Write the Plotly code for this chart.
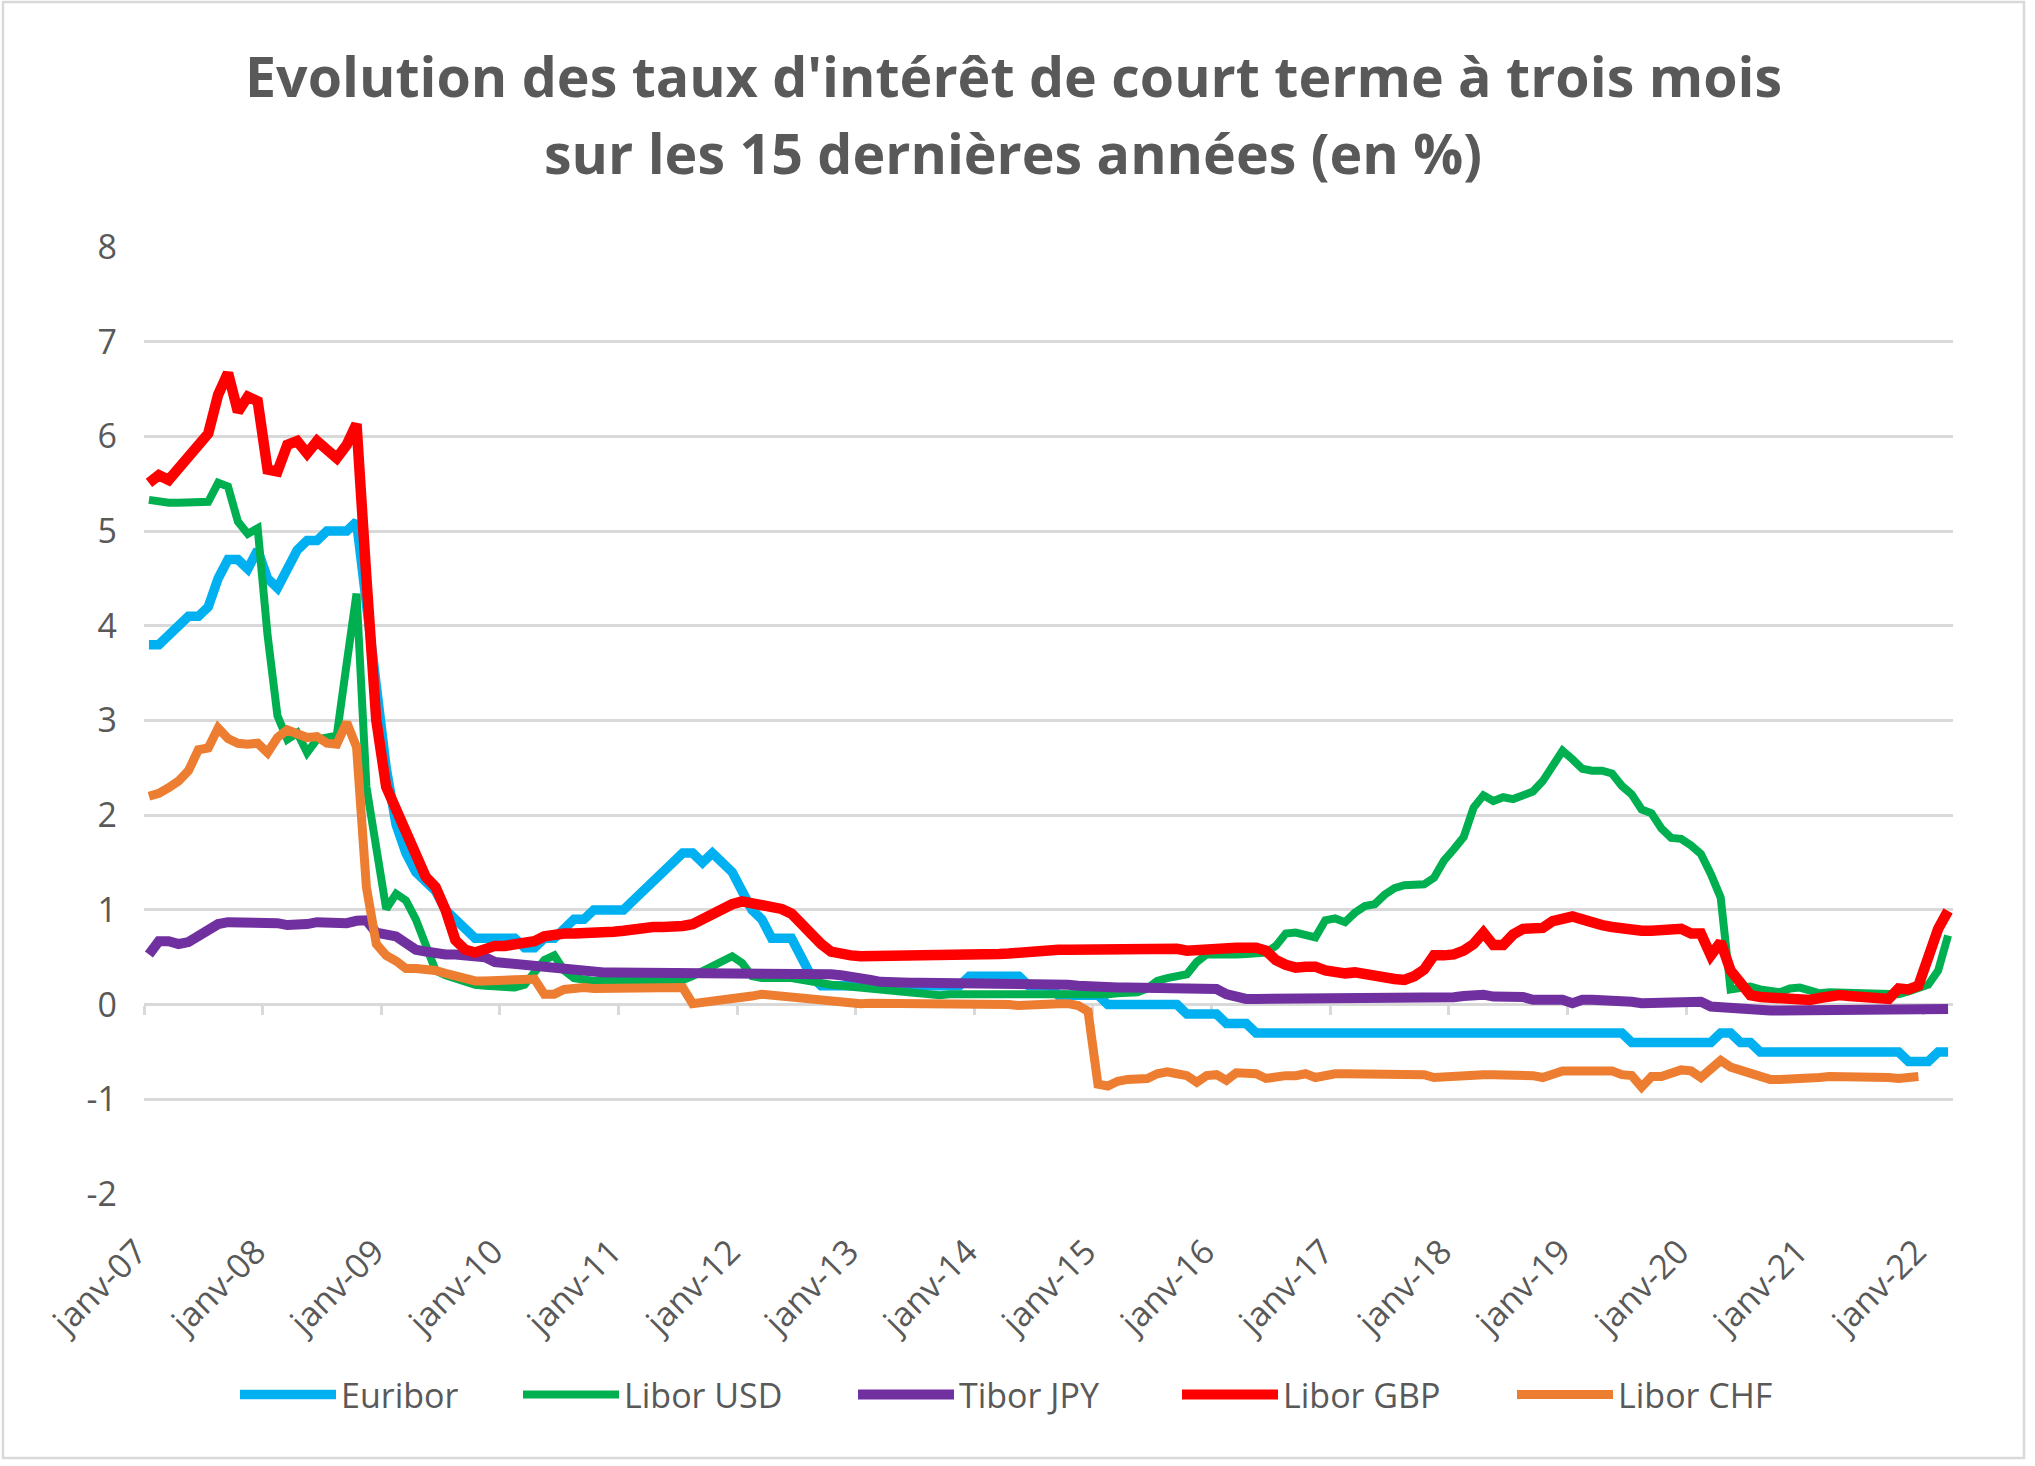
import plotly.graph_objects as go

# ---- Categories (monthly, janv-07 .. mars-22) ----
mois_abbr = ["janv", "févr", "mars", "avr", "mai", "juin",
             "juil", "août", "sept", "oct", "nov", "déc"]
mois = [f"{mois_abbr[i % 12]}-{7 + i // 12:02d}" for i in range(183)]

# ---- Series (in %) ----
euribor = [
    3.8, 3.8, 3.9, 4.0, 4.1, 4.1, 4.2, 4.5, 4.7, 4.7, 4.6, 4.8,          # 2007
    4.5, 4.4, 4.6, 4.8, 4.9, 4.9, 5.0, 5.0, 5.0, 5.1, 4.2, 3.3,          # 2008
    2.5, 1.9, 1.6, 1.4, 1.3, 1.2, 1.0, 0.9, 0.8, 0.7, 0.7, 0.7,          # 2009
    0.7, 0.7, 0.6, 0.6, 0.7, 0.7, 0.8, 0.9, 0.9, 1.0, 1.0, 1.0,          # 2010
    1.0, 1.1, 1.2, 1.3, 1.4, 1.5, 1.6, 1.6, 1.5, 1.6, 1.5, 1.4,          # 2011
    1.2, 1.0, 0.9, 0.7, 0.7, 0.7, 0.5, 0.3, 0.2, 0.2, 0.2, 0.2,          # 2012
    0.2, 0.2, 0.2, 0.2, 0.2, 0.2, 0.2, 0.2, 0.2, 0.2, 0.2, 0.3,          # 2013
    0.3, 0.3, 0.3, 0.3, 0.3, 0.2, 0.2, 0.2, 0.1, 0.1, 0.1, 0.1,          # 2014
    0.1, 0.0, 0.0, 0.0, 0.0, 0.0, 0.0, 0.0, 0.0, -0.1, -0.1, -0.1,       # 2015
    -0.1, -0.2, -0.2, -0.2, -0.3, -0.3, -0.3, -0.3, -0.3, -0.3, -0.3, -0.3,  # 2016
    -0.3, -0.3, -0.3, -0.3, -0.3, -0.3, -0.3, -0.3, -0.3, -0.3, -0.3, -0.3,  # 2017
    -0.3, -0.3, -0.3, -0.3, -0.3, -0.3, -0.3, -0.3, -0.3, -0.3, -0.3, -0.3,  # 2018
    -0.3, -0.3, -0.3, -0.3, -0.3, -0.3, -0.4, -0.4, -0.4, -0.4, -0.4, -0.4,  # 2019
    -0.4, -0.4, -0.4, -0.3, -0.3, -0.4, -0.4, -0.5, -0.5, -0.5, -0.5, -0.5,  # 2020
    -0.5, -0.5, -0.5, -0.5, -0.5, -0.5, -0.5, -0.5, -0.5, -0.5, -0.6, -0.6,  # 2021
    -0.6, -0.5, -0.5,                                                     # 2022
]

libor_usd = [
    5.33, 5.31, 5.30, 5.30, 5.31, 5.31, 5.31, 5.51, 5.47, 5.10, 4.97, 5.03,
    3.90, 3.05, 2.80, 2.87, 2.66, 2.80, 2.82, 2.84, 3.60, 4.34, 2.30, 1.66,
    1.01, 1.17, 1.10, 0.90, 0.60, 0.36, 0.31, 0.27, 0.24, 0.21, 0.20, 0.19,
    0.18, 0.18, 0.21, 0.33, 0.47, 0.52, 0.36, 0.28, 0.26, 0.25, 0.25, 0.25,
    0.26, 0.27, 0.27, 0.26, 0.26, 0.26, 0.26, 0.30, 0.35, 0.41, 0.47, 0.51,
    0.44, 0.30, 0.28, 0.27, 0.28, 0.28, 0.26, 0.23, 0.22, 0.21, 0.20, 0.19,
    0.18, 0.17, 0.17, 0.16, 0.15, 0.14, 0.11, 0.10, 0.10, 0.11, 0.11, 0.11,
    0.11, 0.11, 0.10, 0.09, 0.10, 0.10, 0.11, 0.10, 0.10, 0.11, 0.10, 0.11,
    0.11, 0.11, 0.12, 0.12, 0.13, 0.17, 0.25, 0.28, 0.29, 0.32, 0.45, 0.53,
    0.53, 0.52, 0.53, 0.535, 0.54, 0.55, 0.62, 0.75, 0.76, 0.73, 0.71, 0.89,
    0.91, 0.87, 0.97, 1.04, 1.06, 1.16, 1.23, 1.26, 1.27, 1.27, 1.34, 1.52,
    1.64, 1.77, 2.08, 2.21, 2.15, 2.19, 2.17, 2.20, 2.25, 2.36, 2.54, 2.68,
    2.59, 2.49, 2.47, 2.47, 2.44, 2.31, 2.22, 2.06, 2.02, 1.86, 1.76, 1.75,
    1.68, 1.59, 1.38, 1.13, 0.16, 0.17, 0.19, 0.16, 0.14, 0.13, 0.17, 0.18,
    0.15, 0.12, 0.13, 0.13, 0.13, 0.12, 0.12, 0.12, 0.11, 0.11, 0.14, 0.17,
    0.21, 0.36, 0.73,
]

tibor_jpy = [
    0.53, 0.67, 0.67, 0.64, 0.66, 0.73, 0.77, 0.85, 0.87, 0.87, 0.885, 0.88,
    0.87, 0.86, 0.84, 0.84, 0.85, 0.87, 0.86, 0.85, 0.86, 0.885, 0.89, 0.76,
    0.74, 0.72, 0.65, 0.58, 0.56, 0.54, 0.53, 0.53, 0.52, 0.51, 0.50, 0.45,
    0.44, 0.43, 0.42, 0.39, 0.38, 0.38, 0.37, 0.37, 0.35, 0.34, 0.34, 0.34,
    0.34, 0.33, 0.33, 0.32, 0.32, 0.32, 0.32, 0.32, 0.32, 0.32, 0.32, 0.32,
    0.32, 0.32, 0.32, 0.32, 0.32, 0.32, 0.32, 0.32, 0.32, 0.32, 0.31, 0.30,
    0.28, 0.26, 0.24, 0.23, 0.23, 0.23, 0.23, 0.23, 0.23, 0.23, 0.22, 0.22,
    0.21, 0.21, 0.21, 0.21, 0.21, 0.21, 0.21, 0.21, 0.21, 0.21, 0.20, 0.19,
    0.18, 0.18, 0.18, 0.18, 0.18, 0.18, 0.18, 0.17, 0.17, 0.17, 0.17, 0.17,
    0.165, 0.11, 0.08, 0.06, 0.06, 0.06, 0.06, 0.06, 0.06, 0.06, 0.06, 0.06,
    0.06, 0.06, 0.06, 0.06, 0.06, 0.06, 0.077, 0.06, 0.06, 0.06, 0.065, 0.07,
    0.077, 0.09, 0.11, 0.105, 0.085, 0.09, 0.095, 0.08, 0.05, 0.05, 0.05, 0.05,
    0.014, 0.05, 0.05, 0.05, 0.05, 0.05, 0.03, 0.014, 0.02, 0.02, 0.02, 0.02,
    0.025, 0.03, -0.02, -0.03, -0.03, -0.05, -0.063, -0.063, -0.063, -0.063, -0.063, -0.063,
    -0.065, -0.065, -0.065, -0.065, -0.065, -0.065, -0.065, -0.065, -0.065, -0.065, -0.065, -0.05,
    -0.046, -0.046, -0.046,
]

libor_gbp = [
    5.51, 5.59, 5.54, 5.66, 5.79, 5.89, 6.03, 6.44, 6.67, 6.26, 6.42, 6.37,
    5.65, 5.63, 5.91, 5.95, 5.82, 5.95, 5.86, 5.77, 5.91, 6.13, 4.50, 3.00,
    2.30, 2.05, 1.80, 1.55, 1.35, 1.24, 1.00, 0.68, 0.58, 0.55, 0.60, 0.62,
    0.62, 0.63, 0.65, 0.67, 0.72, 0.74, 0.75, 0.75, 0.75, 0.76, 0.76, 0.77,
    0.78, 0.80, 0.81, 0.82, 0.82, 0.82, 0.83, 0.85, 0.91, 0.96, 1.00, 1.06,
    1.09, 1.07, 1.05, 1.02, 1.01, 0.96, 0.85, 0.71, 0.64, 0.56, 0.53, 0.52,
    0.51, 0.51, 0.51, 0.51, 0.51, 0.51, 0.51, 0.52, 0.52, 0.53, 0.535, 0.535,
    0.535, 0.535, 0.535, 0.54, 0.55, 0.56, 0.58, 0.58, 0.58, 0.58, 0.58, 0.58,
    0.58, 0.58, 0.585, 0.59, 0.59, 0.59, 0.59, 0.60, 0.59, 0.57, 0.58, 0.59,
    0.59, 0.60, 0.60, 0.60, 0.60, 0.57, 0.47, 0.42, 0.39, 0.40, 0.40, 0.36,
    0.34, 0.33, 0.34, 0.32, 0.29, 0.28, 0.27, 0.26, 0.30, 0.37, 0.52, 0.52,
    0.53, 0.57, 0.64, 0.76, 0.63, 0.63, 0.74, 0.80, 0.81, 0.81, 0.88, 0.91,
    0.93, 0.90, 0.86, 0.84, 0.82, 0.80, 0.79, 0.78, 0.78, 0.79, 0.80, 0.80,
    0.75, 0.75, 0.52, 0.66, 0.36, 0.21, 0.10, 0.08, 0.07, 0.06, 0.05, 0.04,
    0.05, 0.07, 0.09, 0.10, 0.09, 0.08, 0.07, 0.07, 0.06, 0.17, 0.16, 0.20,
    0.54, 0.80, 0.99,
]

libor_chf = [
    2.20, 2.23, 2.29, 2.36, 2.47, 2.69, 2.71, 2.92, 2.81, 2.76, 2.75, 2.76,
    2.66, 2.82, 2.90, 2.85, 2.82, 2.83, 2.76, 2.75, 2.98, 2.72, 1.24, 0.64,
    0.52, 0.46, 0.38, 0.38, 0.38, 0.36, 0.33, 0.30, 0.27, 0.25, 0.25, 0.25,
    0.25, 0.25, 0.25, 0.27, 0.11, 0.11, 0.16, 0.18, 0.18, 0.17, 0.17, 0.17,
    0.17, 0.18, 0.19, 0.19, 0.19, 0.18, 0.18, 0.01, 0.02, 0.03, 0.04, 0.05,
    0.07, 0.09, 0.11, 0.10, 0.10, 0.09, 0.07, 0.05, 0.04, 0.035, 0.03, 0.01,
    0.01, 0.015, 0.015, 0.015, 0.015, 0.015, 0.015, 0.01, 0.01, 0.01, 0.015, 0.015,
    0.015, 0.015, 0.015, 0.0, -0.01, 0.0, 0.01, 0.01, 0.01, 0.01, -0.01, -0.07,
    -0.84, -0.86, -0.81, -0.79, -0.79, -0.78, -0.73, -0.71, -0.73, -0.75, -0.82, -0.75,
    -0.74, -0.80, -0.72, -0.72, -0.73, -0.78, -0.76, -0.75, -0.75, -0.73, -0.77, -0.74,
    -0.73, -0.73, -0.73, -0.73, -0.73, -0.73, -0.73, -0.73, -0.73, -0.74, -0.77, -0.76,
    -0.76, -0.76, -0.75, -0.74, -0.74, -0.74, -0.74, -0.74, -0.75, -0.77, -0.73, -0.70,
    -0.70, -0.70, -0.70, -0.70, -0.70, -0.74, -0.75, -0.87, -0.76, -0.76, -0.72, -0.69,
    -0.70, -0.77, -0.68, -0.59, -0.66, -0.69, -0.72, -0.74, -0.79, -0.79, -0.79, -0.77,
    -0.77, -0.77, -0.76, -0.76, -0.75, -0.76, -0.77, -0.76, -0.77, -0.78, -0.78, -0.76,
    None, None, None,
]

series_names = ["Euribor", "Libor USD", "Tibor JPY", "Libor GBP", "Libor CHF"]
series_values = [euribor, libor_usd, tibor_jpy, libor_gbp, libor_chf]
series_colors = ["#00B0F0", "#00B050", "#7030A0", "#FF0000", "#ED7D31"]
series_widths = [9.5, 8, 10, 10.5, 9]
legend_widths = [172, 224, 213, 224, 170]

y_ticks = list(range(-2, 9))

# positions along the category axis
x_pos = list(range(len(mois)))
tick_pos = [i - 0.5 for i in range(0, len(mois), 12)]
tick_txt = [mois[i] for i in range(0, len(mois), 12)]

TXT = "#595959"
GRID = "#D9D9D9"
FONT = "Open Sans"
FS = 34

fig = go.Figure()
for name, vals, col, w, lw in zip(series_names, series_values, series_colors,
                                  series_widths, legend_widths):
    fig.add_trace(go.Scatter(
        x=x_pos, y=vals, name=name, mode="lines",
        line=dict(color=col, width=w), legendwidth=lw,
        text=mois, hovertemplate="%{text}: %{y}<extra>" + name + "</extra>",
    ))

# invisible trace to host the axis crossing at 0 (tick marks)
fig.add_trace(go.Scatter(x=x_pos, y=[None] * len(x_pos), xaxis="x2",
                         showlegend=False, hoverinfo="skip"))

W, H = 2035, 1466
ml, mr, mt, mb = 144, 82, 247, 272
pw, ph = W - ml - mr, H - mt - mb


def px_x(p):
    return (p - ml) / pw


def px_y(p):
    return (H - mb - p) / ph


fig.update_layout(
    width=W, height=H,
    margin=dict(l=ml, r=mr, t=mt, b=mb, autoexpand=False),
    paper_bgcolor="white", plot_bgcolor="white",
    font=dict(family=FONT, size=FS, color=TXT),
    xaxis=dict(
        range=[-0.5, len(mois) - 0.5], tickmode="array",
        tickvals=tick_pos, ticktext=tick_txt, tickangle=-45,
        showgrid=False, zeroline=False, showline=False, ticks="",
        ticklabelstandoff=30, ticklabelshift=-7,
        tickfont=dict(size=FS, color=TXT),
    ),
    xaxis2=dict(
        overlaying="x", anchor="free", position=0.2,
        range=[-0.5, len(mois) - 0.5], tickmode="array", tickvals=tick_pos,
        showticklabels=False, ticks="outside", ticklen=9, tickwidth=2.5,
        tickcolor=GRID, showline=False, showgrid=False, zeroline=False,
        layer="below traces",
    ),
    yaxis=dict(
        range=[-2, 8], tickmode="array", tickvals=y_ticks,
        ticktext=[str(v) for v in y_ticks],
        showgrid=True, gridcolor=GRID, gridwidth=2.5,
        zeroline=False, showline=False, ticks="",
        ticklabelstandoff=26, tickfont=dict(size=FS, color=TXT),
    ),
    legend=dict(
        orientation="h", x=px_x(1014), xanchor="center",
        y=px_y(1395), yanchor="middle",
        font=dict(size=FS, color=TXT), itemwidth=96,
        bgcolor="rgba(0,0,0,0)",
    ),
    annotations=[
        dict(text="Evolution des taux d'intérêt de court terme à trois mois",
             x=px_x(1013), y=px_y(75), xref="paper", yref="paper",
             xanchor="center", yanchor="middle", showarrow=False,
             font=dict(family=FONT, size=55.5, color=TXT, weight="bold")),
        dict(text="sur les 15 dernières années (en %)",
             x=px_x(1013), y=px_y(152), xref="paper", yref="paper",
             xanchor="center", yanchor="middle", showarrow=False,
             font=dict(family=FONT, size=55.5, color=TXT, weight="bold")),
    ],
    shapes=[
        dict(type="rect", xref="paper", yref="paper",
             x0=px_x(3), x1=px_x(2024), y0=px_y(1458), y1=px_y(2),
             line=dict(color=GRID, width=2.5), layer="below"),
    ],
)

fig.write_html("out.html")
